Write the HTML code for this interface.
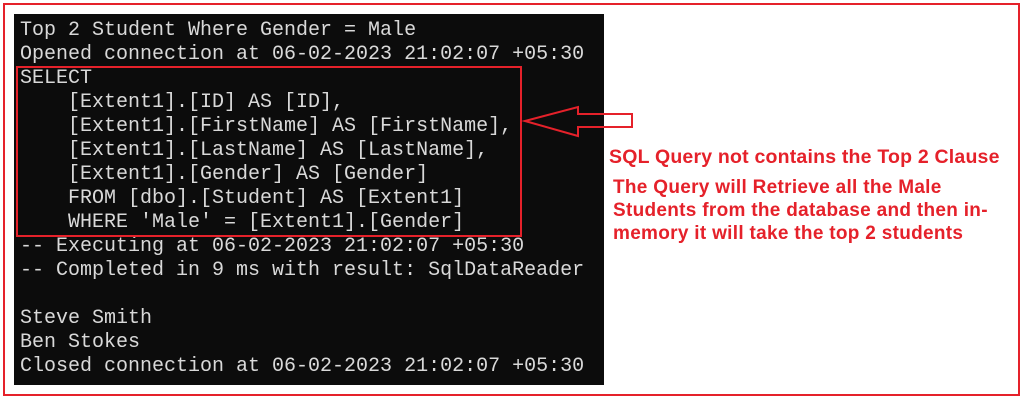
<!DOCTYPE html>
<html><head><style>
body{margin:0;width:1024px;height:400px;background:#fff;position:relative;overflow:hidden}
.outer{position:absolute;left:3px;top:3px;width:1013px;height:389px;border:2px solid #e5212a}
.term{position:absolute;left:14px;top:14px;width:590px;height:371px;background:#0c0c0c}
pre{position:absolute;left:20px;top:19px;margin:0;font:20px/24px "Liberation Mono",monospace;color:#d9d9d9}
.box{position:absolute;left:16px;top:66px;width:502px;height:167px;border:2px solid #e5212a}
.red{position:absolute;color:#e5212a;font:bold 19px/23px "Liberation Sans",Arial,sans-serif;white-space:nowrap}
</style></head><body>
<div class="outer"></div>
<div class="term"></div>
<pre>Top 2 Student Where Gender = Male
Opened connection at 06-02-2023 21:02:07 +05:30
SELECT
    [Extent1].[ID] AS [ID],
    [Extent1].[FirstName] AS [FirstName],
    [Extent1].[LastName] AS [LastName],
    [Extent1].[Gender] AS [Gender]
    FROM [dbo].[Student] AS [Extent1]
    WHERE 'Male' = [Extent1].[Gender]
-- Executing at 06-02-2023 21:02:07 +05:30
-- Completed in 9 ms with result: SqlDataReader

Steve Smith
Ben Stokes
Closed connection at 06-02-2023 21:02:07 +05:30</pre>
<div class="box"></div>
<svg style="position:absolute;left:0;top:0" width="1024" height="400">
<polygon points="525,121 578,107 578,114 632,114 632,127 578,127 578,136" fill="none" stroke="#e5212a" stroke-width="2"/>
</svg>
<div class="red" style="left:609px;top:146px;font-size:19.5px;letter-spacing:0.2px">SQL Query not contains the Top 2 Clause</div>
<div class="red" style="left:613px;top:176px;letter-spacing:0.3px">The Query will Retrieve all the Male<br>Students from the database and then in-<br>memory it will take the top 2 students</div>
</body></html>
